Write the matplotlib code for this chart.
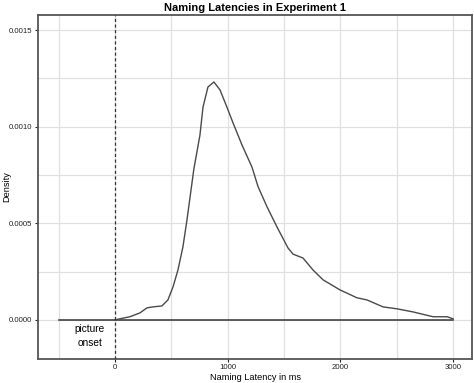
import matplotlib
matplotlib.use('Agg')
import matplotlib.pyplot as plt

plt.rcParams['font.family'] = ['Liberation Sans', 'DejaVu Sans']

# density curve (ms, density)
latency_ms = [0, 133, 222, 284, 337, 417, 470, 515, 559, 603, 639, 700, 754, 781,
              825, 878, 932, 994, 1047, 1127, 1216, 1269, 1349, 1438, 1535, 1580,
              1668, 1757, 1846, 1996, 2147, 2236, 2378, 2502, 2644, 2822, 2946, 3000]
density = [0.0, 0.16, 0.36, 0.62, 0.67, 0.72, 1.03, 1.7, 2.58, 3.77, 5.17, 7.8, 9.56, 11.0,
           12.05, 12.31, 11.9, 11.0, 10.2, 9.05, 7.9, 6.9, 5.85, 4.8, 3.72, 3.4,
           3.2, 2.58, 2.07, 1.55, 1.14, 1.03, 0.67, 0.57, 0.41, 0.16, 0.16, 0.05]
density = [d * 1e-4 for d in density]

baseline_x = [-500, 3000]
x_ticks = [0, 1000, 2000, 3000]
x_minor = [-500, 500, 1500, 2500]
y_ticks = [0.0, 0.0005, 0.0010, 0.0015]
y_minor = [0.00025, 0.00075, 0.00125]

fig = plt.figure(figsize=(4.74, 3.83), dpi=100)
ax = fig.add_axes([0.080, 0.063, 0.916, 0.898])

for v in x_ticks + x_minor:
    ax.axvline(v, color='#e0e0e0', lw=0.9, zorder=0)
for v in y_ticks + y_minor:
    ax.axhline(v, color='#e0e0e0', lw=0.9, zorder=0)

ax.plot(baseline_x, [0, 0], color='#333333', lw=1.1, zorder=2)
ax.plot(latency_ms, density, color='#4a4a4a', lw=1.0, zorder=3)
ax.axvline(0, color='#333333', lw=0.9, ls=(0, (2.5, 2)), zorder=4)

ax.text(-222, -0.000046, 'picture', ha='center', va='center', fontsize=7.3, color='#000000')
ax.text(-222, -0.000119, 'onset', ha='center', va='center', fontsize=7.3, color='#000000')

ax.set_xlim(-683, 3168)
ax.set_ylim(-0.000202, 0.001578)
ax.set_xticks(x_ticks)
ax.set_xticklabels(['0', '1000', '2000', '3000'])
ax.set_yticks(y_ticks)
ax.set_yticklabels(['0.0000', '0.0005', '0.0010', '0.0015'])
ax.tick_params(labelsize=5.6, colors='#222222', length=2.5, width=0.8, pad=1.5)

for s in ax.spines.values():
    s.set_color('#555555')
    s.set_linewidth(1.3)

ax.set_xlabel('Naming Latency in ms', fontsize=6.6, color='black')
ax.xaxis.set_label_coords(0.5, -0.041)
ax.set_ylabel('Density', fontsize=6.6, color='black')
ax.yaxis.set_label_coords(-0.062, 0.5)
ax.set_title('Naming Latencies in Experiment 1', fontsize=8, fontweight='bold', pad=3)

fig.savefig('out.png', dpi=100)
